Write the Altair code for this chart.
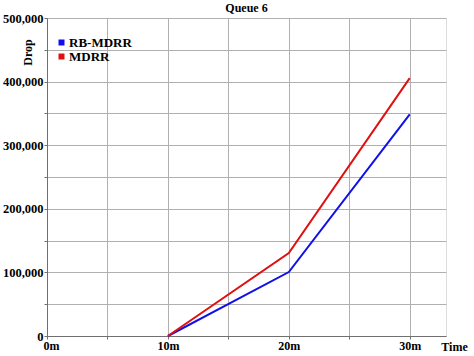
import altair as alt
import pandas as pd

times = [10, 20, 30]
rb_mdrr = [0, 100500, 348500]
mdrr = [0, 130500, 405500]
series_names = ["RB-MDRR", "MDRR"]
series_colors = ["#1010e8", "#e01010"]

rows = []
for t, v in zip(times, rb_mdrr):
    rows.append({"Time": t, "Drop": v, "Series": "RB-MDRR"})
for t, v in zip(times, mdrr):
    rows.append({"Time": t, "Drop": v, "Series": "MDRR"})
df = pd.DataFrame(rows)

FONT = "Liberation Serif"

chart = alt.Chart(df).mark_line(strokeWidth=2).encode(
    x=alt.X("Time:Q",
            scale=alt.Scale(domain=[0, 33], nice=False, zero=False),
            axis=alt.Axis(values=[0, 5, 10, 15, 20, 25, 30],
                          labelExpr="datum.value % 10 == 0 ? datum.value + 'm' : ''",
                          title="Time", titleX=407, titleY=10,
                          titleAlign="center", titleBaseline="middle",
                          titleFont=FONT, titleFontSize=12, titleFontWeight="bold",
                          labelFont=FONT, labelFontSize=12, labelFontWeight="bold",
                          labelColor="black", titleColor="black",
                          labelPadding=1, tickSize=3,
                          labelOffset={"condition": {"test": "datum.value == 0", "value": 4}, "value": 0},
                          domainColor="#707070", tickColor="#707070",
                          gridColor="#b0b0b0", labelFlush=False)),
    y=alt.Y("Drop:Q",
            scale=alt.Scale(domain=[0, 500000], nice=False),
            axis=alt.Axis(values=list(range(0, 500001, 50000)),
                          labelExpr="datum.value % 100000 == 0 ? format(datum.value, ',') : ''",
                          title="Drop", titleX=-20, titleY=34, titleAngle=270,
                          titleAlign="center", titleBaseline="middle",
                          titleFont=FONT, titleFontSize=12, titleFontWeight="bold",
                          labelFont=FONT, labelFontSize=12.5, labelFontWeight="bold",
                          labelColor="black", titleColor="black",
                          labelPadding=1, tickSize=3,
                          domainColor="#707070", tickColor="#707070",
                          gridColor="#b0b0b0")),
    color=alt.Color("Series:N",
                    scale=alt.Scale(domain=series_names, range=series_colors),
                    legend=alt.Legend(title=None, orient="none", legendX=8, legendY=18,
                                      symbolType="square", symbolSize=9,
                                      symbolStrokeWidth=3,
                                      labelFont=FONT, labelFontSize=13, labelFontWeight="bold",
                                      labelColor="black", rowPadding=-2, padding=0,
                                      labelOffset=1)),
).properties(
    width=399, height=318,
    title=alt.TitleParams("Queue 6", font=FONT, fontSize=12, fontWeight="bold",
                          color="black", offset=0, dy=3, anchor="middle"),
    padding={"left": 47, "top": 18, "right": 28, "bottom": 20},
    autosize=alt.AutoSizeParams(type="none"),
).configure_view(stroke="#707070", strokeWidth=1).configure(background="white")

chart.save("out.html", embed_options={"renderer": "svg", "actions": False})
